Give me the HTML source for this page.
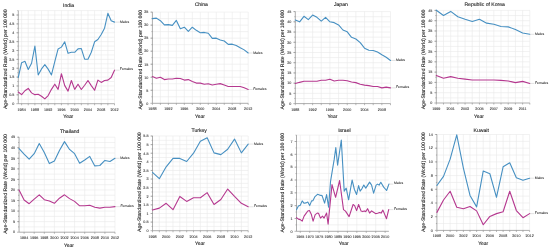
<!DOCTYPE html>
<html><head><meta charset="utf-8"><style>
html,body{margin:0;padding:0;background:#fff;}
svg{display:block;}
text{font-family:"Liberation Sans",sans-serif;fill:#262626;text-rendering:geometricPrecision;}
.tk{fill:#3a3a3a;stroke:#3a3a3a;stroke-width:0.09px;}
.ti{stroke:#262626;stroke-width:0.12px;}
.ml{fill:#2a2a2a;stroke:#2a2a2a;stroke-width:0.05px;}
svg{will-change:transform;}
</style></head><body>
<svg width="550" height="248" viewBox="0 0 550 248">
<rect width="550" height="248" fill="#fff"/>
<path d="M18.30 99.27H114.50M18.30 94.83H114.50M18.30 90.40H114.50M18.30 85.97H114.50M18.30 81.53H114.50M18.30 77.10H114.50M18.30 72.67H114.50M18.30 68.23H114.50M18.30 63.80H114.50M18.30 59.37H114.50M18.30 54.93H114.50M18.30 50.50H114.50M18.30 46.07H114.50M18.30 41.63H114.50M18.30 37.20H114.50M18.30 32.77H114.50M18.30 28.33H114.50M18.30 23.90H114.50M18.30 19.47H114.50M18.30 15.03H114.50M18.30 10.60H114.50M21.62 10.60V103.70M28.25 10.60V103.70M34.89 10.60V103.70M41.52 10.60V103.70M48.16 10.60V103.70M54.79 10.60V103.70M61.42 10.60V103.70M68.06 10.60V103.70M74.69 10.60V103.70M81.33 10.60V103.70M87.96 10.60V103.70M94.60 10.60V103.70M101.23 10.60V103.70M107.87 10.60V103.70M114.50 10.60V103.70" stroke="#eaeaea" stroke-width="0.6" fill="none"/>
<path d="M18.30 10.60V103.70H114.50" stroke="#8a8a8a" stroke-width="0.7" fill="none"/>
<path d="M17.30 99.27H18.30M17.30 94.83H18.30M17.30 90.40H18.30M17.30 85.97H18.30M17.30 81.53H18.30M17.30 77.10H18.30M17.30 72.67H18.30M17.30 68.23H18.30M17.30 63.80H18.30M17.30 59.37H18.30M17.30 54.93H18.30M17.30 50.50H18.30M17.30 46.07H18.30M17.30 41.63H18.30M17.30 37.20H18.30M17.30 32.77H18.30M17.30 28.33H18.30M17.30 23.90H18.30M17.30 19.47H18.30M17.30 15.03H18.30M17.30 10.60H18.30M16.30 103.70H18.30M16.30 94.83H18.30M16.30 85.97H18.30M16.30 77.10H18.30M16.30 68.23H18.30M16.30 59.37H18.30M16.30 50.50H18.30M16.30 41.63H18.30M16.30 32.77H18.30M16.30 23.90H18.30M16.30 15.03H18.30M21.62 103.70v1.6M28.25 103.70v1.6M34.89 103.70v1.6M41.52 103.70v1.6M48.16 103.70v1.6M54.79 103.70v1.6M61.42 103.70v1.6M68.06 103.70v1.6M74.69 103.70v1.6M81.33 103.70v1.6M87.96 103.70v1.6M94.60 103.70v1.6M101.23 103.70v1.6M107.87 103.70v1.6M114.50 103.70v1.6" stroke="#8a8a8a" stroke-width="0.6" fill="none"/>
<text x="14.30" y="105.00" font-size="3.7" text-anchor="end" class="tk">0</text>
<text x="14.30" y="96.13" font-size="3.7" text-anchor="end" class="tk">0.5</text>
<text x="14.30" y="87.26" font-size="3.7" text-anchor="end" class="tk">1</text>
<text x="14.30" y="78.39" font-size="3.7" text-anchor="end" class="tk">1.5</text>
<text x="14.30" y="69.53" font-size="3.7" text-anchor="end" class="tk">2</text>
<text x="14.30" y="60.66" font-size="3.7" text-anchor="end" class="tk">2.5</text>
<text x="14.30" y="51.80" font-size="3.7" text-anchor="end" class="tk">3</text>
<text x="14.30" y="42.93" font-size="3.7" text-anchor="end" class="tk">3.5</text>
<text x="14.30" y="34.06" font-size="3.7" text-anchor="end" class="tk">4</text>
<text x="14.30" y="25.19" font-size="3.7" text-anchor="end" class="tk">4.5</text>
<text x="14.30" y="16.33" font-size="3.7" text-anchor="end" class="tk">5</text>
<text x="21.62" y="110.50" font-size="3.7" text-anchor="middle" class="tk">1984</text>
<text x="34.89" y="110.50" font-size="3.7" text-anchor="middle" class="tk">1988</text>
<text x="48.16" y="110.50" font-size="3.7" text-anchor="middle" class="tk">1992</text>
<text x="61.42" y="110.50" font-size="3.7" text-anchor="middle" class="tk">1996</text>
<text x="74.69" y="110.50" font-size="3.7" text-anchor="middle" class="tk">2000</text>
<text x="87.96" y="110.50" font-size="3.7" text-anchor="middle" class="tk">2004</text>
<text x="101.23" y="110.50" font-size="3.7" text-anchor="middle" class="tk">2008</text>
<text x="114.50" y="110.50" font-size="3.7" text-anchor="middle" class="tk">2012</text>
<text x="68.60" y="6.80" font-size="5.1" text-anchor="middle" class="ti">India</text>
<text x="68.30" y="118.16" font-size="4.9" text-anchor="middle" class="ti">Year</text>
<text transform="translate(6.74 59.30) rotate(-90)" font-size="5.1" text-anchor="middle" class="ti">Age-Standardized Rate (World) per 100 000</text>
<polyline points="18.30,77.45 21.62,62.74 24.93,61.32 28.25,69.47 31.57,63.27 34.89,46.07 38.20,74.97 41.52,68.94 44.84,64.69 48.16,69.12 51.47,74.97 54.79,61.67 58.11,48.90 61.42,47.13 64.74,41.81 68.06,53.34 71.38,52.27 74.69,52.27 78.01,48.90 81.33,48.55 84.64,59.19 87.96,59.19 91.28,52.27 94.60,41.81 97.91,39.51 101.23,34.54 104.55,28.16 107.87,13.26 111.18,20.71 114.50,22.13" stroke="#4790c2" stroke-width="1.1" fill="none" stroke-linejoin="round" stroke-linecap="round"/>
<path d="M115.10 22.13H119.60" stroke="#8c8c8c" stroke-width="0.45" stroke-dasharray="0.55 0.45" fill="none"/>
<text x="120.00" y="22.64" font-size="3.45" class="ml">Males</text>
<polyline points="18.30,92.00 21.62,94.66 24.93,90.75 28.25,88.45 31.57,92.88 34.89,94.66 38.20,94.30 41.52,96.25 44.84,98.91 48.16,95.54 51.47,89.34 54.79,84.19 58.11,89.34 61.42,73.73 64.74,85.61 68.06,91.11 71.38,80.47 74.69,89.34 78.01,84.19 81.33,89.51 84.64,85.26 87.96,80.47 91.28,85.61 94.60,90.22 97.91,80.11 101.23,82.42 104.55,80.47 107.87,80.11 111.18,77.45 114.50,70.18" stroke="#b5388f" stroke-width="1.1" fill="none" stroke-linejoin="round" stroke-linecap="round"/>
<path d="M115.10 70.18H119.40" stroke="#8c8c8c" stroke-width="0.45" stroke-dasharray="0.55 0.45" fill="none"/>
<text x="119.80" y="70.24" font-size="3.45" class="ml">Females</text>
<path d="M152.40 96.79H248.20M152.40 90.27H248.20M152.40 83.76H248.20M152.40 77.24H248.20M152.40 70.73H248.20M152.40 64.21H248.20M152.40 57.70H248.20M152.40 51.19H248.20M152.40 44.67H248.20M152.40 38.16H248.20M152.40 31.64H248.20M152.40 25.13H248.20M152.40 18.61H248.20M152.40 12.10H248.20M160.38 12.10V103.30M168.37 12.10V103.30M176.35 12.10V103.30M184.33 12.10V103.30M192.32 12.10V103.30M200.30 12.10V103.30M208.28 12.10V103.30M216.27 12.10V103.30M224.25 12.10V103.30M232.23 12.10V103.30M240.22 12.10V103.30M248.20 12.10V103.30" stroke="#eaeaea" stroke-width="0.6" fill="none"/>
<path d="M152.40 12.10V103.30H248.20" stroke="#8a8a8a" stroke-width="0.7" fill="none"/>
<path d="M151.40 96.79H152.40M151.40 90.27H152.40M151.40 83.76H152.40M151.40 77.24H152.40M151.40 70.73H152.40M151.40 64.21H152.40M151.40 57.70H152.40M151.40 51.19H152.40M151.40 44.67H152.40M151.40 38.16H152.40M151.40 31.64H152.40M151.40 25.13H152.40M151.40 18.61H152.40M151.40 12.10H152.40M150.40 103.30H152.40M150.40 90.27H152.40M150.40 77.24H152.40M150.40 64.21H152.40M150.40 51.19H152.40M150.40 38.16H152.40M150.40 25.13H152.40M150.40 12.10H152.40M152.40 103.30v1.6M160.38 103.30v1.6M168.37 103.30v1.6M176.35 103.30v1.6M184.33 103.30v1.6M192.32 103.30v1.6M200.30 103.30v1.6M208.28 103.30v1.6M216.27 103.30v1.6M224.25 103.30v1.6M232.23 103.30v1.6M240.22 103.30v1.6M248.20 103.30v1.6" stroke="#8a8a8a" stroke-width="0.6" fill="none"/>
<text x="148.40" y="104.59" font-size="3.7" text-anchor="end" class="tk">0</text>
<text x="148.40" y="91.57" font-size="3.7" text-anchor="end" class="tk">5</text>
<text x="148.40" y="78.54" font-size="3.7" text-anchor="end" class="tk">10</text>
<text x="148.40" y="65.51" font-size="3.7" text-anchor="end" class="tk">15</text>
<text x="148.40" y="52.48" font-size="3.7" text-anchor="end" class="tk">20</text>
<text x="148.40" y="39.45" font-size="3.7" text-anchor="end" class="tk">25</text>
<text x="148.40" y="26.42" font-size="3.7" text-anchor="end" class="tk">30</text>
<text x="148.40" y="13.39" font-size="3.7" text-anchor="end" class="tk">35</text>
<text x="152.40" y="110.09" font-size="3.7" text-anchor="middle" class="tk">1988</text>
<text x="168.37" y="110.09" font-size="3.7" text-anchor="middle" class="tk">1992</text>
<text x="184.33" y="110.09" font-size="3.7" text-anchor="middle" class="tk">1996</text>
<text x="200.30" y="110.09" font-size="3.7" text-anchor="middle" class="tk">2000</text>
<text x="216.27" y="110.09" font-size="3.7" text-anchor="middle" class="tk">2004</text>
<text x="232.23" y="110.09" font-size="3.7" text-anchor="middle" class="tk">2008</text>
<text x="248.20" y="110.09" font-size="3.7" text-anchor="middle" class="tk">2012</text>
<text x="201.30" y="5.70" font-size="5.1" text-anchor="middle" class="ti">China</text>
<text x="200.00" y="117.76" font-size="4.9" text-anchor="middle" class="ti">Year</text>
<text transform="translate(141.59 59.70) rotate(-90)" font-size="5.1" text-anchor="middle" class="ti">Age-Standardized Rate (World) per 100 000</text>
<polyline points="152.40,18.61 156.39,18.09 160.38,20.70 164.38,24.87 168.37,24.61 172.36,25.39 176.35,20.44 180.34,28.78 184.33,27.21 188.32,31.38 192.32,27.21 196.31,30.34 200.30,32.69 204.29,32.42 208.28,33.21 212.28,38.42 216.27,38.16 220.26,39.98 224.25,41.02 228.24,44.41 232.23,44.15 236.22,45.45 240.22,47.80 244.21,49.88 248.20,53.01" stroke="#4790c2" stroke-width="1.1" fill="none" stroke-linejoin="round" stroke-linecap="round"/>
<path d="M248.80 53.01H252.80" stroke="#8c8c8c" stroke-width="0.45" stroke-dasharray="0.55 0.45" fill="none"/>
<text x="253.20" y="53.84" font-size="3.45" class="ml">Males</text>
<polyline points="152.40,76.46 156.39,78.29 160.38,77.24 164.38,79.59 168.37,79.07 172.36,79.07 176.35,78.29 180.34,78.55 184.33,80.11 188.32,79.59 192.32,81.41 196.31,83.11 200.30,83.11 204.29,84.28 208.28,83.76 212.28,85.06 216.27,84.28 220.26,83.63 224.25,84.93 228.24,86.49 232.23,86.49 236.22,86.49 240.22,86.49 244.21,87.80 248.20,89.49" stroke="#b5388f" stroke-width="1.1" fill="none" stroke-linejoin="round" stroke-linecap="round"/>
<path d="M248.80 89.49H252.80" stroke="#8c8c8c" stroke-width="0.45" stroke-dasharray="0.55 0.45" fill="none"/>
<text x="253.20" y="89.64" font-size="3.45" class="ml">Females</text>
<path d="M295.30 98.49H390.50M295.30 93.38H390.50M295.30 88.27H390.50M295.30 83.16H390.50M295.30 78.04H390.50M295.30 72.93H390.50M295.30 67.82H390.50M295.30 62.71H390.50M295.30 57.60H390.50M295.30 52.49H390.50M295.30 47.38H390.50M295.30 42.27H390.50M295.30 37.16H390.50M295.30 32.04H390.50M295.30 26.93H390.50M295.30 21.82H390.50M295.30 16.71H390.50M295.30 11.60H390.50M303.95 11.60V103.60M312.61 11.60V103.60M321.26 11.60V103.60M329.92 11.60V103.60M338.57 11.60V103.60M347.23 11.60V103.60M355.88 11.60V103.60M364.54 11.60V103.60M373.19 11.60V103.60M381.85 11.60V103.60M390.50 11.60V103.60" stroke="#eaeaea" stroke-width="0.6" fill="none"/>
<path d="M295.30 11.60V103.60H390.50" stroke="#8a8a8a" stroke-width="0.7" fill="none"/>
<path d="M294.30 98.49H295.30M294.30 93.38H295.30M294.30 88.27H295.30M294.30 83.16H295.30M294.30 78.04H295.30M294.30 72.93H295.30M294.30 67.82H295.30M294.30 62.71H295.30M294.30 57.60H295.30M294.30 52.49H295.30M294.30 47.38H295.30M294.30 42.27H295.30M294.30 37.16H295.30M294.30 32.04H295.30M294.30 26.93H295.30M294.30 21.82H295.30M294.30 16.71H295.30M294.30 11.60H295.30M293.30 103.60H295.30M293.30 93.38H295.30M293.30 83.16H295.30M293.30 72.93H295.30M293.30 62.71H295.30M293.30 52.49H295.30M293.30 42.27H295.30M293.30 32.04H295.30M293.30 21.82H295.30M293.30 11.60H295.30M295.30 103.60v1.6M303.95 103.60v1.6M312.61 103.60v1.6M321.26 103.60v1.6M329.92 103.60v1.6M338.57 103.60v1.6M347.23 103.60v1.6M355.88 103.60v1.6M364.54 103.60v1.6M373.19 103.60v1.6M381.85 103.60v1.6M390.50 103.60v1.6" stroke="#8a8a8a" stroke-width="0.6" fill="none"/>
<text x="291.30" y="104.89" font-size="3.7" text-anchor="end" class="tk">0</text>
<text x="291.30" y="94.67" font-size="3.7" text-anchor="end" class="tk">5</text>
<text x="291.30" y="84.45" font-size="3.7" text-anchor="end" class="tk">10</text>
<text x="291.30" y="74.23" font-size="3.7" text-anchor="end" class="tk">15</text>
<text x="291.30" y="64.01" font-size="3.7" text-anchor="end" class="tk">20</text>
<text x="291.30" y="53.78" font-size="3.7" text-anchor="end" class="tk">25</text>
<text x="291.30" y="43.56" font-size="3.7" text-anchor="end" class="tk">30</text>
<text x="291.30" y="33.34" font-size="3.7" text-anchor="end" class="tk">35</text>
<text x="291.30" y="23.12" font-size="3.7" text-anchor="end" class="tk">40</text>
<text x="291.30" y="12.89" font-size="3.7" text-anchor="end" class="tk">45</text>
<text x="295.30" y="111.00" font-size="3.7" text-anchor="middle" class="tk">1988</text>
<text x="312.61" y="111.00" font-size="3.7" text-anchor="middle" class="tk">1992</text>
<text x="329.92" y="111.00" font-size="3.7" text-anchor="middle" class="tk">1996</text>
<text x="347.23" y="111.00" font-size="3.7" text-anchor="middle" class="tk">2000</text>
<text x="364.54" y="111.00" font-size="3.7" text-anchor="middle" class="tk">2004</text>
<text x="381.85" y="111.00" font-size="3.7" text-anchor="middle" class="tk">2008</text>
<text x="340.90" y="5.80" font-size="5.1" text-anchor="middle" class="ti">Japan</text>
<text x="332.50" y="117.76" font-size="4.9" text-anchor="middle" class="ti">Year</text>
<text transform="translate(284.24 59.60) rotate(-90)" font-size="5.1" text-anchor="middle" class="ti">Age-Standardized Rate (World) per 100 000</text>
<polyline points="295.30,19.98 299.63,21.82 303.95,16.30 308.28,19.57 312.61,15.08 316.94,17.32 321.26,21.21 325.59,17.32 329.92,21.82 334.25,22.64 338.57,24.89 342.90,30.00 347.23,31.84 351.55,37.36 355.88,39.00 360.21,42.68 364.54,48.20 368.86,50.24 373.19,50.44 377.52,52.08 381.85,54.74 386.17,57.19 390.50,60.46" stroke="#4790c2" stroke-width="1.1" fill="none" stroke-linejoin="round" stroke-linecap="round"/>
<path d="M391.10 60.46H395.50" stroke="#8c8c8c" stroke-width="0.45" stroke-dasharray="0.55 0.45" fill="none"/>
<text x="395.90" y="61.14" font-size="3.45" class="ml">Males</text>
<polyline points="295.30,83.56 299.63,82.34 303.95,81.32 308.28,81.32 312.61,81.32 316.94,81.32 321.26,80.29 325.59,80.29 329.92,79.17 334.25,81.01 338.57,80.29 342.90,80.29 347.23,80.80 351.55,82.03 355.88,82.64 360.21,84.18 364.54,85.10 368.86,85.61 373.19,86.53 377.52,86.53 381.85,87.86 386.17,87.14 390.50,87.86" stroke="#b5388f" stroke-width="1.1" fill="none" stroke-linejoin="round" stroke-linecap="round"/>
<path d="M391.10 87.86H395.60" stroke="#8c8c8c" stroke-width="0.45" stroke-dasharray="0.55 0.45" fill="none"/>
<text x="396.00" y="88.34" font-size="3.45" class="ml">Females</text>
<path d="M436.30 97.86H529.80M436.30 92.71H529.80M436.30 87.57H529.80M436.30 82.42H529.80M436.30 77.28H529.80M436.30 72.13H529.80M436.30 66.99H529.80M436.30 61.84H529.80M436.30 56.70H529.80M436.30 51.56H529.80M436.30 46.41H529.80M436.30 41.27H529.80M436.30 36.12H529.80M436.30 30.98H529.80M436.30 25.83H529.80M436.30 20.69H529.80M436.30 15.54H529.80M436.30 10.40H529.80M443.49 10.40V103.00M450.68 10.40V103.00M457.88 10.40V103.00M465.07 10.40V103.00M472.26 10.40V103.00M479.45 10.40V103.00M486.65 10.40V103.00M493.84 10.40V103.00M501.03 10.40V103.00M508.22 10.40V103.00M515.42 10.40V103.00M522.61 10.40V103.00M529.80 10.40V103.00" stroke="#eaeaea" stroke-width="0.6" fill="none"/>
<path d="M436.30 10.40V103.00H529.80" stroke="#8a8a8a" stroke-width="0.7" fill="none"/>
<path d="M435.30 97.86H436.30M435.30 92.71H436.30M435.30 87.57H436.30M435.30 82.42H436.30M435.30 77.28H436.30M435.30 72.13H436.30M435.30 66.99H436.30M435.30 61.84H436.30M435.30 56.70H436.30M435.30 51.56H436.30M435.30 46.41H436.30M435.30 41.27H436.30M435.30 36.12H436.30M435.30 30.98H436.30M435.30 25.83H436.30M435.30 20.69H436.30M435.30 15.54H436.30M435.30 10.40H436.30M434.30 103.00H436.30M434.30 92.71H436.30M434.30 82.42H436.30M434.30 72.13H436.30M434.30 61.84H436.30M434.30 51.56H436.30M434.30 41.27H436.30M434.30 30.98H436.30M434.30 20.69H436.30M434.30 10.40H436.30M436.30 103.00v1.6M443.49 103.00v1.6M450.68 103.00v1.6M457.88 103.00v1.6M465.07 103.00v1.6M472.26 103.00v1.6M479.45 103.00v1.6M486.65 103.00v1.6M493.84 103.00v1.6M501.03 103.00v1.6M508.22 103.00v1.6M515.42 103.00v1.6M522.61 103.00v1.6M529.80 103.00v1.6" stroke="#8a8a8a" stroke-width="0.6" fill="none"/>
<text x="432.30" y="104.30" font-size="3.7" text-anchor="end" class="tk">0</text>
<text x="432.30" y="94.01" font-size="3.7" text-anchor="end" class="tk">5</text>
<text x="432.30" y="83.72" font-size="3.7" text-anchor="end" class="tk">10</text>
<text x="432.30" y="73.43" font-size="3.7" text-anchor="end" class="tk">15</text>
<text x="432.30" y="63.14" font-size="3.7" text-anchor="end" class="tk">20</text>
<text x="432.30" y="52.85" font-size="3.7" text-anchor="end" class="tk">25</text>
<text x="432.30" y="42.56" font-size="3.7" text-anchor="end" class="tk">30</text>
<text x="432.30" y="32.27" font-size="3.7" text-anchor="end" class="tk">35</text>
<text x="432.30" y="21.98" font-size="3.7" text-anchor="end" class="tk">40</text>
<text x="432.30" y="11.70" font-size="3.7" text-anchor="end" class="tk">45</text>
<text x="436.30" y="109.70" font-size="3.7" text-anchor="middle" class="tk">1999</text>
<text x="450.68" y="109.70" font-size="3.7" text-anchor="middle" class="tk">2001</text>
<text x="465.07" y="109.70" font-size="3.7" text-anchor="middle" class="tk">2003</text>
<text x="479.45" y="109.70" font-size="3.7" text-anchor="middle" class="tk">2005</text>
<text x="493.84" y="109.70" font-size="3.7" text-anchor="middle" class="tk">2007</text>
<text x="508.22" y="109.70" font-size="3.7" text-anchor="middle" class="tk">2009</text>
<text x="522.61" y="109.70" font-size="3.7" text-anchor="middle" class="tk">2011</text>
<text x="484.70" y="5.80" font-size="5.1" text-anchor="middle" class="ti">Republic of Korea</text>
<text x="478.90" y="117.96" font-size="4.9" text-anchor="middle" class="ti">Year</text>
<text transform="translate(425.44 59.50) rotate(-90)" font-size="5.1" text-anchor="middle" class="ti">Age-Standardized Rate (World) per 100 000</text>
<polyline points="436.30,10.19 443.49,15.54 450.68,11.43 457.88,16.78 465.07,19.25 472.26,21.51 479.45,19.25 486.65,23.16 493.84,24.19 501.03,26.45 508.22,26.86 515.42,29.54 522.61,33.04 529.80,34.27" stroke="#4790c2" stroke-width="1.1" fill="none" stroke-linejoin="round" stroke-linecap="round"/>
<path d="M530.40 34.27H534.60" stroke="#8c8c8c" stroke-width="0.45" stroke-dasharray="0.55 0.45" fill="none"/>
<text x="535.00" y="34.64" font-size="3.45" class="ml">Males</text>
<polyline points="436.30,75.43 443.49,78.20 450.68,76.66 457.88,78.20 465.07,79.13 472.26,79.95 479.45,79.95 486.65,79.95 493.84,79.95 501.03,80.36 508.22,80.98 515.42,82.63 522.61,81.39 529.80,83.45" stroke="#b5388f" stroke-width="1.1" fill="none" stroke-linejoin="round" stroke-linecap="round"/>
<path d="M530.40 83.45H534.60" stroke="#8c8c8c" stroke-width="0.45" stroke-dasharray="0.55 0.45" fill="none"/>
<text x="535.00" y="83.84" font-size="3.45" class="ml">Females</text>
<path d="M19.05 226.92H115.00M19.05 221.64H115.00M19.05 216.37H115.00M19.05 211.09H115.00M19.05 205.81H115.00M19.05 200.53H115.00M19.05 195.26H115.00M19.05 189.98H115.00M19.05 184.70H115.00M19.05 179.42H115.00M19.05 174.14H115.00M19.05 168.87H115.00M19.05 163.59H115.00M19.05 158.31H115.00M19.05 153.03H115.00M19.05 147.76H115.00M19.05 142.48H115.00M19.05 137.20H115.00M24.10 137.20V232.20M34.20 137.20V232.20M44.30 137.20V232.20M54.40 137.20V232.20M64.50 137.20V232.20M74.60 137.20V232.20M84.70 137.20V232.20M94.80 137.20V232.20M104.90 137.20V232.20M115.00 137.20V232.20" stroke="#eaeaea" stroke-width="0.6" fill="none"/>
<path d="M19.05 137.20V232.20H115.00" stroke="#8a8a8a" stroke-width="0.7" fill="none"/>
<path d="M18.05 226.92H19.05M18.05 221.64H19.05M18.05 216.37H19.05M18.05 211.09H19.05M18.05 205.81H19.05M18.05 200.53H19.05M18.05 195.26H19.05M18.05 189.98H19.05M18.05 184.70H19.05M18.05 179.42H19.05M18.05 174.14H19.05M18.05 168.87H19.05M18.05 163.59H19.05M18.05 158.31H19.05M18.05 153.03H19.05M18.05 147.76H19.05M18.05 142.48H19.05M18.05 137.20H19.05M17.05 232.20H19.05M17.05 221.64H19.05M17.05 211.09H19.05M17.05 200.53H19.05M17.05 189.98H19.05M17.05 179.42H19.05M17.05 168.87H19.05M17.05 158.31H19.05M17.05 147.76H19.05M17.05 137.20H19.05M24.10 232.20v1.6M34.20 232.20v1.6M44.30 232.20v1.6M54.40 232.20v1.6M64.50 232.20v1.6M74.60 232.20v1.6M84.70 232.20v1.6M94.80 232.20v1.6M104.90 232.20v1.6M115.00 232.20v1.6" stroke="#8a8a8a" stroke-width="0.6" fill="none"/>
<text x="15.05" y="233.49" font-size="3.7" text-anchor="end" class="tk">0</text>
<text x="15.05" y="222.94" font-size="3.7" text-anchor="end" class="tk">5</text>
<text x="15.05" y="212.38" font-size="3.7" text-anchor="end" class="tk">10</text>
<text x="15.05" y="201.83" font-size="3.7" text-anchor="end" class="tk">15</text>
<text x="15.05" y="191.27" font-size="3.7" text-anchor="end" class="tk">20</text>
<text x="15.05" y="180.72" font-size="3.7" text-anchor="end" class="tk">25</text>
<text x="15.05" y="170.16" font-size="3.7" text-anchor="end" class="tk">30</text>
<text x="15.05" y="159.61" font-size="3.7" text-anchor="end" class="tk">35</text>
<text x="15.05" y="149.05" font-size="3.7" text-anchor="end" class="tk">40</text>
<text x="15.05" y="138.49" font-size="3.7" text-anchor="end" class="tk">45</text>
<text x="24.10" y="238.69" font-size="3.7" text-anchor="middle" class="tk">1994</text>
<text x="34.20" y="238.69" font-size="3.7" text-anchor="middle" class="tk">1996</text>
<text x="44.30" y="238.69" font-size="3.7" text-anchor="middle" class="tk">1998</text>
<text x="54.40" y="238.69" font-size="3.7" text-anchor="middle" class="tk">2000</text>
<text x="64.50" y="238.69" font-size="3.7" text-anchor="middle" class="tk">2002</text>
<text x="74.60" y="238.69" font-size="3.7" text-anchor="middle" class="tk">2004</text>
<text x="84.70" y="238.69" font-size="3.7" text-anchor="middle" class="tk">2006</text>
<text x="94.80" y="238.69" font-size="3.7" text-anchor="middle" class="tk">2008</text>
<text x="104.90" y="238.69" font-size="3.7" text-anchor="middle" class="tk">2010</text>
<text x="115.00" y="238.69" font-size="3.7" text-anchor="middle" class="tk">2012</text>
<text x="69.65" y="132.65" font-size="5.1" text-anchor="middle" class="ti">Thailand</text>
<text x="69.00" y="246.66" font-size="4.9" text-anchor="middle" class="ti">Year</text>
<text transform="translate(6.64 184.00) rotate(-90)" font-size="5.1" text-anchor="middle" class="ti">Age-Standardized Rate (World) per 100 000</text>
<polyline points="19.05,148.60 24.10,154.09 29.15,159.16 34.20,153.67 39.25,143.53 44.30,152.40 49.35,163.59 54.40,161.06 59.45,150.50 64.50,141.63 69.55,149.44 74.60,153.67 79.65,163.17 84.70,160.00 89.75,156.41 94.80,165.91 99.85,165.49 104.90,160.42 109.95,161.48 115.00,158.31" stroke="#4790c2" stroke-width="1.1" fill="none" stroke-linejoin="round" stroke-linecap="round"/>
<path d="M115.60 158.31H119.80" stroke="#8c8c8c" stroke-width="0.45" stroke-dasharray="0.55 0.45" fill="none"/>
<text x="120.20" y="159.34" font-size="3.45" class="ml">Males</text>
<polyline points="19.05,189.98 24.10,200.01 29.15,203.70 34.20,199.06 39.25,194.83 44.30,199.69 49.35,200.96 54.40,203.28 59.45,198.21 64.50,194.83 69.55,198.63 74.60,201.38 79.65,205.81 84.70,205.81 89.75,205.18 94.80,207.29 99.85,208.13 104.90,207.29 109.95,207.29 115.00,206.66" stroke="#b5388f" stroke-width="1.1" fill="none" stroke-linejoin="round" stroke-linecap="round"/>
<path d="M115.60 206.66H120.10" stroke="#8c8c8c" stroke-width="0.45" stroke-dasharray="0.55 0.45" fill="none"/>
<text x="120.50" y="207.44" font-size="3.45" class="ml">Females</text>
<path d="M152.50 226.40H248.20M152.50 222.09H248.20M152.50 217.79H248.20M152.50 213.48H248.20M152.50 209.18H248.20M152.50 204.87H248.20M152.50 200.57H248.20M152.50 196.26H248.20M152.50 191.96H248.20M152.50 187.65H248.20M152.50 183.35H248.20M152.50 179.05H248.20M152.50 174.74H248.20M152.50 170.44H248.20M152.50 166.13H248.20M152.50 161.83H248.20M152.50 157.52H248.20M152.50 153.22H248.20M152.50 148.91H248.20M152.50 144.61H248.20M152.50 140.30H248.20M152.50 136.00H248.20M159.34 136.00V230.70M166.17 136.00V230.70M173.01 136.00V230.70M179.84 136.00V230.70M186.68 136.00V230.70M193.51 136.00V230.70M200.35 136.00V230.70M207.19 136.00V230.70M214.02 136.00V230.70M220.86 136.00V230.70M227.69 136.00V230.70M234.53 136.00V230.70M241.36 136.00V230.70M248.20 136.00V230.70" stroke="#eaeaea" stroke-width="0.6" fill="none"/>
<path d="M152.50 136.00V230.70H248.20" stroke="#8a8a8a" stroke-width="0.7" fill="none"/>
<path d="M151.50 226.40H152.50M151.50 222.09H152.50M151.50 217.79H152.50M151.50 213.48H152.50M151.50 209.18H152.50M151.50 204.87H152.50M151.50 200.57H152.50M151.50 196.26H152.50M151.50 191.96H152.50M151.50 187.65H152.50M151.50 183.35H152.50M151.50 179.05H152.50M151.50 174.74H152.50M151.50 170.44H152.50M151.50 166.13H152.50M151.50 161.83H152.50M151.50 157.52H152.50M151.50 153.22H152.50M151.50 148.91H152.50M151.50 144.61H152.50M151.50 140.30H152.50M151.50 136.00H152.50M150.50 230.70H152.50M150.50 222.09H152.50M150.50 213.48H152.50M150.50 204.87H152.50M150.50 196.26H152.50M150.50 187.65H152.50M150.50 179.05H152.50M150.50 170.44H152.50M150.50 161.83H152.50M150.50 153.22H152.50M150.50 144.61H152.50M150.50 136.00H152.50M152.50 230.70v1.6M159.34 230.70v1.6M166.17 230.70v1.6M173.01 230.70v1.6M179.84 230.70v1.6M186.68 230.70v1.6M193.51 230.70v1.6M200.35 230.70v1.6M207.19 230.70v1.6M214.02 230.70v1.6M220.86 230.70v1.6M227.69 230.70v1.6M234.53 230.70v1.6M241.36 230.70v1.6M248.20 230.70v1.6" stroke="#8a8a8a" stroke-width="0.6" fill="none"/>
<text x="148.50" y="231.99" font-size="3.7" text-anchor="end" class="tk">0</text>
<text x="148.50" y="223.39" font-size="3.7" text-anchor="end" class="tk">0.5</text>
<text x="148.50" y="214.78" font-size="3.7" text-anchor="end" class="tk">1</text>
<text x="148.50" y="206.17" font-size="3.7" text-anchor="end" class="tk">1.5</text>
<text x="148.50" y="197.56" font-size="3.7" text-anchor="end" class="tk">2</text>
<text x="148.50" y="188.95" font-size="3.7" text-anchor="end" class="tk">2.5</text>
<text x="148.50" y="180.34" font-size="3.7" text-anchor="end" class="tk">3</text>
<text x="148.50" y="171.73" font-size="3.7" text-anchor="end" class="tk">3.5</text>
<text x="148.50" y="163.12" font-size="3.7" text-anchor="end" class="tk">4</text>
<text x="148.50" y="154.51" font-size="3.7" text-anchor="end" class="tk">4.5</text>
<text x="148.50" y="145.90" font-size="3.7" text-anchor="end" class="tk">5</text>
<text x="148.50" y="137.29" font-size="3.7" text-anchor="end" class="tk">5.5</text>
<text x="152.50" y="237.79" font-size="3.7" text-anchor="middle" class="tk">1998</text>
<text x="166.17" y="237.79" font-size="3.7" text-anchor="middle" class="tk">2000</text>
<text x="179.84" y="237.79" font-size="3.7" text-anchor="middle" class="tk">2002</text>
<text x="193.51" y="237.79" font-size="3.7" text-anchor="middle" class="tk">2004</text>
<text x="207.19" y="237.79" font-size="3.7" text-anchor="middle" class="tk">2006</text>
<text x="220.86" y="237.79" font-size="3.7" text-anchor="middle" class="tk">2008</text>
<text x="234.53" y="237.79" font-size="3.7" text-anchor="middle" class="tk">2010</text>
<text x="248.20" y="237.79" font-size="3.7" text-anchor="middle" class="tk">2012</text>
<text x="199.20" y="132.40" font-size="5.1" text-anchor="middle" class="ti">Turkey</text>
<text x="199.90" y="245.36" font-size="4.9" text-anchor="middle" class="ti">Year</text>
<text transform="translate(141.44 182.10) rotate(-90)" font-size="5.1" text-anchor="middle" class="ti">Age-Standardized Rate (World) per 100 000</text>
<polyline points="152.50,172.33 159.34,178.70 166.17,166.82 173.01,158.38 179.84,158.38 186.68,161.48 193.51,153.22 200.35,141.34 207.19,137.72 214.02,152.87 220.86,154.60 227.69,149.26 234.53,139.10 241.36,152.87 248.20,144.09" stroke="#4790c2" stroke-width="1.1" fill="none" stroke-linejoin="round" stroke-linecap="round"/>
<path d="M248.80 144.09H253.60" stroke="#8c8c8c" stroke-width="0.45" stroke-dasharray="0.55 0.45" fill="none"/>
<text x="254.00" y="144.64" font-size="3.45" class="ml">Males</text>
<polyline points="152.50,210.04 159.34,208.14 166.17,203.32 173.01,209.69 179.84,196.44 186.68,201.43 193.51,197.81 200.35,197.81 207.19,192.65 214.02,204.53 220.86,199.54 227.69,189.03 234.53,196.44 241.36,203.32 248.20,206.77" stroke="#b5388f" stroke-width="1.1" fill="none" stroke-linejoin="round" stroke-linecap="round"/>
<path d="M248.80 206.77H253.50" stroke="#8c8c8c" stroke-width="0.45" stroke-dasharray="0.55 0.45" fill="none"/>
<text x="253.90" y="207.14" font-size="3.45" class="ml">Females</text>
<path d="M296.50 224.89H388.90M296.50 218.47H388.90M296.50 212.06H388.90M296.50 205.65H388.90M296.50 199.23H388.90M296.50 192.82H388.90M296.50 186.41H388.90M296.50 179.99H388.90M296.50 173.58H388.90M296.50 167.17H388.90M296.50 160.75H388.90M296.50 154.34H388.90M296.50 147.93H388.90M296.50 141.51H388.90M296.50 135.10H388.90M300.27 135.10V231.30M309.70 135.10V231.30M319.13 135.10V231.30M328.56 135.10V231.30M337.99 135.10V231.30M347.41 135.10V231.30M356.84 135.10V231.30M366.27 135.10V231.30M375.70 135.10V231.30M385.13 135.10V231.30" stroke="#eaeaea" stroke-width="0.6" fill="none"/>
<path d="M296.50 135.10V231.30H388.90" stroke="#8a8a8a" stroke-width="0.7" fill="none"/>
<path d="M295.50 224.89H296.50M295.50 218.47H296.50M295.50 212.06H296.50M295.50 205.65H296.50M295.50 199.23H296.50M295.50 192.82H296.50M295.50 186.41H296.50M295.50 179.99H296.50M295.50 173.58H296.50M295.50 167.17H296.50M295.50 160.75H296.50M295.50 154.34H296.50M295.50 147.93H296.50M295.50 141.51H296.50M295.50 135.10H296.50M294.50 231.30H296.50M294.50 218.47H296.50M294.50 205.65H296.50M294.50 192.82H296.50M294.50 179.99H296.50M294.50 167.17H296.50M294.50 154.34H296.50M294.50 141.51H296.50M300.27 231.30v1.6M309.70 231.30v1.6M319.13 231.30v1.6M328.56 231.30v1.6M337.99 231.30v1.6M347.41 231.30v1.6M356.84 231.30v1.6M366.27 231.30v1.6M375.70 231.30v1.6M385.13 231.30v1.6" stroke="#8a8a8a" stroke-width="0.6" fill="none"/>
<text x="292.50" y="232.59" font-size="3.7" text-anchor="end" class="tk">0</text>
<text x="292.50" y="219.77" font-size="3.7" text-anchor="end" class="tk">1</text>
<text x="292.50" y="206.94" font-size="3.7" text-anchor="end" class="tk">2</text>
<text x="292.50" y="194.11" font-size="3.7" text-anchor="end" class="tk">3</text>
<text x="292.50" y="181.29" font-size="3.7" text-anchor="end" class="tk">4</text>
<text x="292.50" y="168.46" font-size="3.7" text-anchor="end" class="tk">5</text>
<text x="292.50" y="155.63" font-size="3.7" text-anchor="end" class="tk">6</text>
<text x="292.50" y="142.81" font-size="3.7" text-anchor="end" class="tk">7</text>
<text x="300.27" y="238.29" font-size="3.7" text-anchor="middle" class="tk">1965</text>
<text x="309.70" y="238.29" font-size="3.7" text-anchor="middle" class="tk">1970</text>
<text x="319.13" y="238.29" font-size="3.7" text-anchor="middle" class="tk">1975</text>
<text x="328.56" y="238.29" font-size="3.7" text-anchor="middle" class="tk">1980</text>
<text x="337.99" y="238.29" font-size="3.7" text-anchor="middle" class="tk">1985</text>
<text x="347.41" y="238.29" font-size="3.7" text-anchor="middle" class="tk">1990</text>
<text x="356.84" y="238.29" font-size="3.7" text-anchor="middle" class="tk">1995</text>
<text x="366.27" y="238.29" font-size="3.7" text-anchor="middle" class="tk">2000</text>
<text x="375.70" y="238.29" font-size="3.7" text-anchor="middle" class="tk">2005</text>
<text x="385.13" y="238.29" font-size="3.7" text-anchor="middle" class="tk">2010</text>
<text x="344.40" y="132.40" font-size="5.1" text-anchor="middle" class="ti">Israel</text>
<text x="343.60" y="245.36" font-size="4.9" text-anchor="middle" class="ti">Year</text>
<text transform="translate(284.24 182.60) rotate(-90)" font-size="5.1" text-anchor="middle" class="ti">Age-Standardized Rate (World) per 100 000</text>
<polyline points="296.50,209.70 298.40,206.10 300.30,205.30 302.20,200.90 304.10,203.30 305.90,202.90 307.80,202.10 309.70,205.60 311.60,200.90 313.00,200.60 315.00,196.60 317.50,194.30 319.60,195.10 322.10,195.60 324.60,203.10 326.60,194.60 328.60,207.20 330.50,181.60 332.40,170.20 334.20,159.40 335.80,147.60 337.60,165.10 341.30,140.00 344.20,191.10 346.20,188.10 348.60,199.80 352.10,180.00 354.40,189.50 356.60,194.50 358.60,185.60 360.10,191.10 362.00,188.60 363.80,185.10 365.80,188.10 369.60,182.10 371.60,185.10 373.60,193.10 376.10,185.10 377.60,184.10 379.10,185.10 380.80,182.30 383.70,187.10 386.60,190.50 388.90,184.10" stroke="#4790c2" stroke-width="1.1" fill="none" stroke-linejoin="round" stroke-linecap="round"/>
<path d="M389.50 184.10H393.60" stroke="#8c8c8c" stroke-width="0.45" stroke-dasharray="0.55 0.45" fill="none"/>
<text x="394.00" y="184.34" font-size="3.45" class="ml">Males</text>
<polyline points="296.50,217.60 298.40,219.10 300.30,219.60 302.20,221.10 304.10,216.10 305.90,213.60 307.80,211.00 309.40,210.50 311.40,214.60 313.10,221.10 315.20,214.60 317.30,213.10 318.50,213.30 320.50,218.10 322.50,216.10 324.10,218.10 326.60,213.10 328.10,224.20 332.00,184.60 335.60,197.30 339.60,180.50 343.50,209.60 345.50,211.10 349.10,216.60 353.10,204.50 354.60,205.60 356.60,210.60 358.60,204.50 361.10,211.10 362.70,211.60 364.30,210.90 365.70,211.60 367.60,208.70 369.60,213.10 371.60,210.90 373.60,212.30 375.60,213.60 377.60,213.30 379.60,212.60 381.10,213.10 382.90,210.10 386.50,218.70 388.70,209.60" stroke="#b5388f" stroke-width="1.1" fill="none" stroke-linejoin="round" stroke-linecap="round"/>
<path d="M389.30 209.60H393.50" stroke="#8c8c8c" stroke-width="0.45" stroke-dasharray="0.55 0.45" fill="none"/>
<text x="393.90" y="210.14" font-size="3.45" class="ml">Females</text>
<path d="M436.90 223.55H529.60M436.90 216.70H529.60M436.90 209.85H529.60M436.90 203.00H529.60M436.90 196.15H529.60M436.90 189.30H529.60M436.90 182.45H529.60M436.90 175.60H529.60M436.90 168.75H529.60M436.90 161.90H529.60M436.90 155.05H529.60M436.90 148.20H529.60M436.90 141.35H529.60M436.90 134.50H529.60M443.52 134.50V230.40M450.14 134.50V230.40M456.76 134.50V230.40M463.39 134.50V230.40M470.01 134.50V230.40M476.63 134.50V230.40M483.25 134.50V230.40M489.87 134.50V230.40M496.49 134.50V230.40M503.11 134.50V230.40M509.74 134.50V230.40M516.36 134.50V230.40M522.98 134.50V230.40M529.60 134.50V230.40" stroke="#eaeaea" stroke-width="0.6" fill="none"/>
<path d="M436.90 134.50V230.40H529.60" stroke="#8a8a8a" stroke-width="0.7" fill="none"/>
<path d="M435.90 223.55H436.90M435.90 216.70H436.90M435.90 209.85H436.90M435.90 203.00H436.90M435.90 196.15H436.90M435.90 189.30H436.90M435.90 182.45H436.90M435.90 175.60H436.90M435.90 168.75H436.90M435.90 161.90H436.90M435.90 155.05H436.90M435.90 148.20H436.90M435.90 141.35H436.90M435.90 134.50H436.90M434.90 230.40H436.90M434.90 216.70H436.90M434.90 203.00H436.90M434.90 189.30H436.90M434.90 175.60H436.90M434.90 161.90H436.90M434.90 148.20H436.90M434.90 134.50H436.90M436.90 230.40v1.6M443.52 230.40v1.6M450.14 230.40v1.6M456.76 230.40v1.6M463.39 230.40v1.6M470.01 230.40v1.6M476.63 230.40v1.6M483.25 230.40v1.6M489.87 230.40v1.6M496.49 230.40v1.6M503.11 230.40v1.6M509.74 230.40v1.6M516.36 230.40v1.6M522.98 230.40v1.6M529.60 230.40v1.6" stroke="#8a8a8a" stroke-width="0.6" fill="none"/>
<text x="432.90" y="231.69" font-size="3.7" text-anchor="end" class="tk">0</text>
<text x="432.90" y="218.00" font-size="3.7" text-anchor="end" class="tk">2</text>
<text x="432.90" y="204.29" font-size="3.7" text-anchor="end" class="tk">4</text>
<text x="432.90" y="190.59" font-size="3.7" text-anchor="end" class="tk">6</text>
<text x="432.90" y="176.89" font-size="3.7" text-anchor="end" class="tk">8</text>
<text x="432.90" y="163.19" font-size="3.7" text-anchor="end" class="tk">10</text>
<text x="432.90" y="149.49" font-size="3.7" text-anchor="end" class="tk">12</text>
<text x="432.90" y="135.79" font-size="3.7" text-anchor="end" class="tk">14</text>
<text x="436.90" y="237.49" font-size="3.7" text-anchor="middle" class="tk">1998</text>
<text x="450.14" y="237.49" font-size="3.7" text-anchor="middle" class="tk">2000</text>
<text x="463.39" y="237.49" font-size="3.7" text-anchor="middle" class="tk">2002</text>
<text x="476.63" y="237.49" font-size="3.7" text-anchor="middle" class="tk">2004</text>
<text x="489.87" y="237.49" font-size="3.7" text-anchor="middle" class="tk">2006</text>
<text x="503.11" y="237.49" font-size="3.7" text-anchor="middle" class="tk">2008</text>
<text x="516.36" y="237.49" font-size="3.7" text-anchor="middle" class="tk">2010</text>
<text x="529.60" y="237.49" font-size="3.7" text-anchor="middle" class="tk">2012</text>
<text x="481.20" y="132.30" font-size="5.1" text-anchor="middle" class="ti">Kuwait</text>
<text x="483.20" y="245.36" font-size="4.9" text-anchor="middle" class="ti">Year</text>
<text transform="translate(425.34 182.10) rotate(-90)" font-size="5.1" text-anchor="middle" class="ti">Age-Standardized Rate (World) per 100 000</text>
<polyline points="436.90,185.53 443.52,176.42 450.14,159.16 456.76,134.77 463.39,168.06 470.01,195.47 476.63,206.90 483.25,170.94 489.87,173.75 496.49,197.31 503.11,166.83 509.74,162.72 516.36,177.66 522.98,180.33 529.60,178.20" stroke="#4790c2" stroke-width="1.1" fill="none" stroke-linejoin="round" stroke-linecap="round"/>
<path d="M530.20 178.20H534.40" stroke="#8c8c8c" stroke-width="0.45" stroke-dasharray="0.55 0.45" fill="none"/>
<text x="534.80" y="179.14" font-size="3.45" class="ml">Males</text>
<polyline points="436.90,212.38 443.52,199.99 450.14,191.29 456.76,207.32 463.39,208.69 470.01,206.43 476.63,210.88 483.25,224.78 489.87,216.43 496.49,213.62 503.11,211.77 509.74,191.29 516.36,210.53 522.98,217.73 529.60,213.62" stroke="#b5388f" stroke-width="1.1" fill="none" stroke-linejoin="round" stroke-linecap="round"/>
<path d="M530.20 213.62H534.40" stroke="#8c8c8c" stroke-width="0.45" stroke-dasharray="0.55 0.45" fill="none"/>
<text x="534.80" y="214.14" font-size="3.45" class="ml">Females</text>
</svg></body></html>
